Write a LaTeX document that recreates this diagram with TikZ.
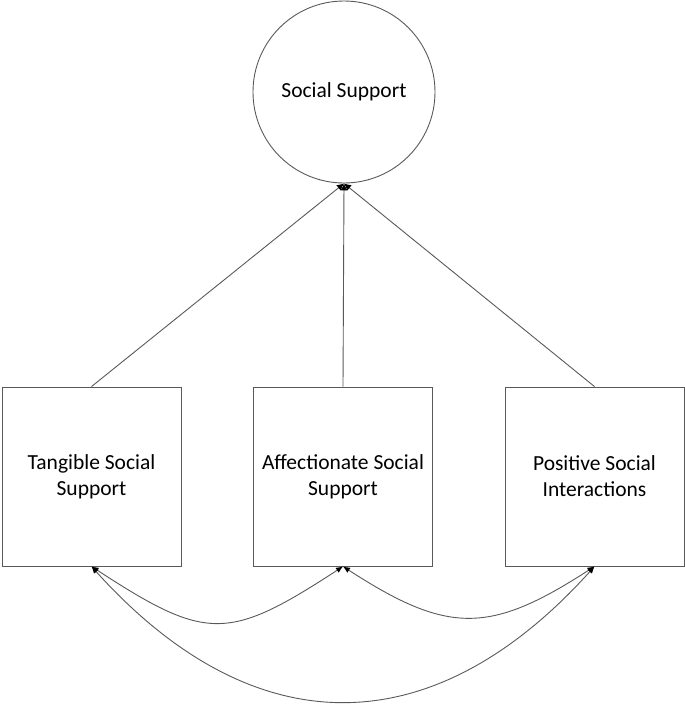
\documentclass[tikz,border=0pt]{standalone}
\usepackage{fontspec}
\setmainfont{Carlito}
\usetikzlibrary{arrows.meta}
\begin{document}
\begin{tikzpicture}[x=1pt,y=-1pt,
  conn/.style={draw=black!65, line width=0.9pt, -{Latex[length=7pt,width=7pt,color=black]}},
  dconn/.style={draw=black!65, line width=0.9pt, {Latex[length=7pt,width=6pt,color=black]}-{Latex[length=7pt,width=6pt,color=black]}},
  boxnode/.style={draw=black!65, line width=0.9pt, minimum width=179pt, minimum height=179pt, align=center, font=\fontsize{21.5}{26}\selectfont, inner sep=0pt},
  latent/.style={draw=black!65, line width=0.9pt, circle, minimum size=182pt, align=center, font=\fontsize{21.5}{26}\selectfont, inner sep=0pt}]
\useasboundingbox (0,0) rectangle (685,705);
\node[latent] (ss) at (344,92) {Social Support};
\node[boxnode] (t) at (91.5,476.5) {Tangible Social\\Support};
\node[boxnode] (a) at (343,476.5) {Affectionate Social\\Support};
\node[boxnode] (p) at (594.5,476.5) {Positive Social\\Interactions};
\draw[conn] (t.north) -- (ss.south);
\draw[conn] (a.north) -- (ss.south);
\draw[conn] (p.north) -- (ss.south);
\draw[dconn] (t.south) .. controls +(115,75) and +(-115,75) .. (a.south);
\draw[dconn] (a.south) .. controls +(105,68) and +(-105,68) .. (p.south);
\draw[dconn] (t.south) .. controls +(162,180) and +(-162,180) .. (p.south);
\end{tikzpicture}
\end{document}
